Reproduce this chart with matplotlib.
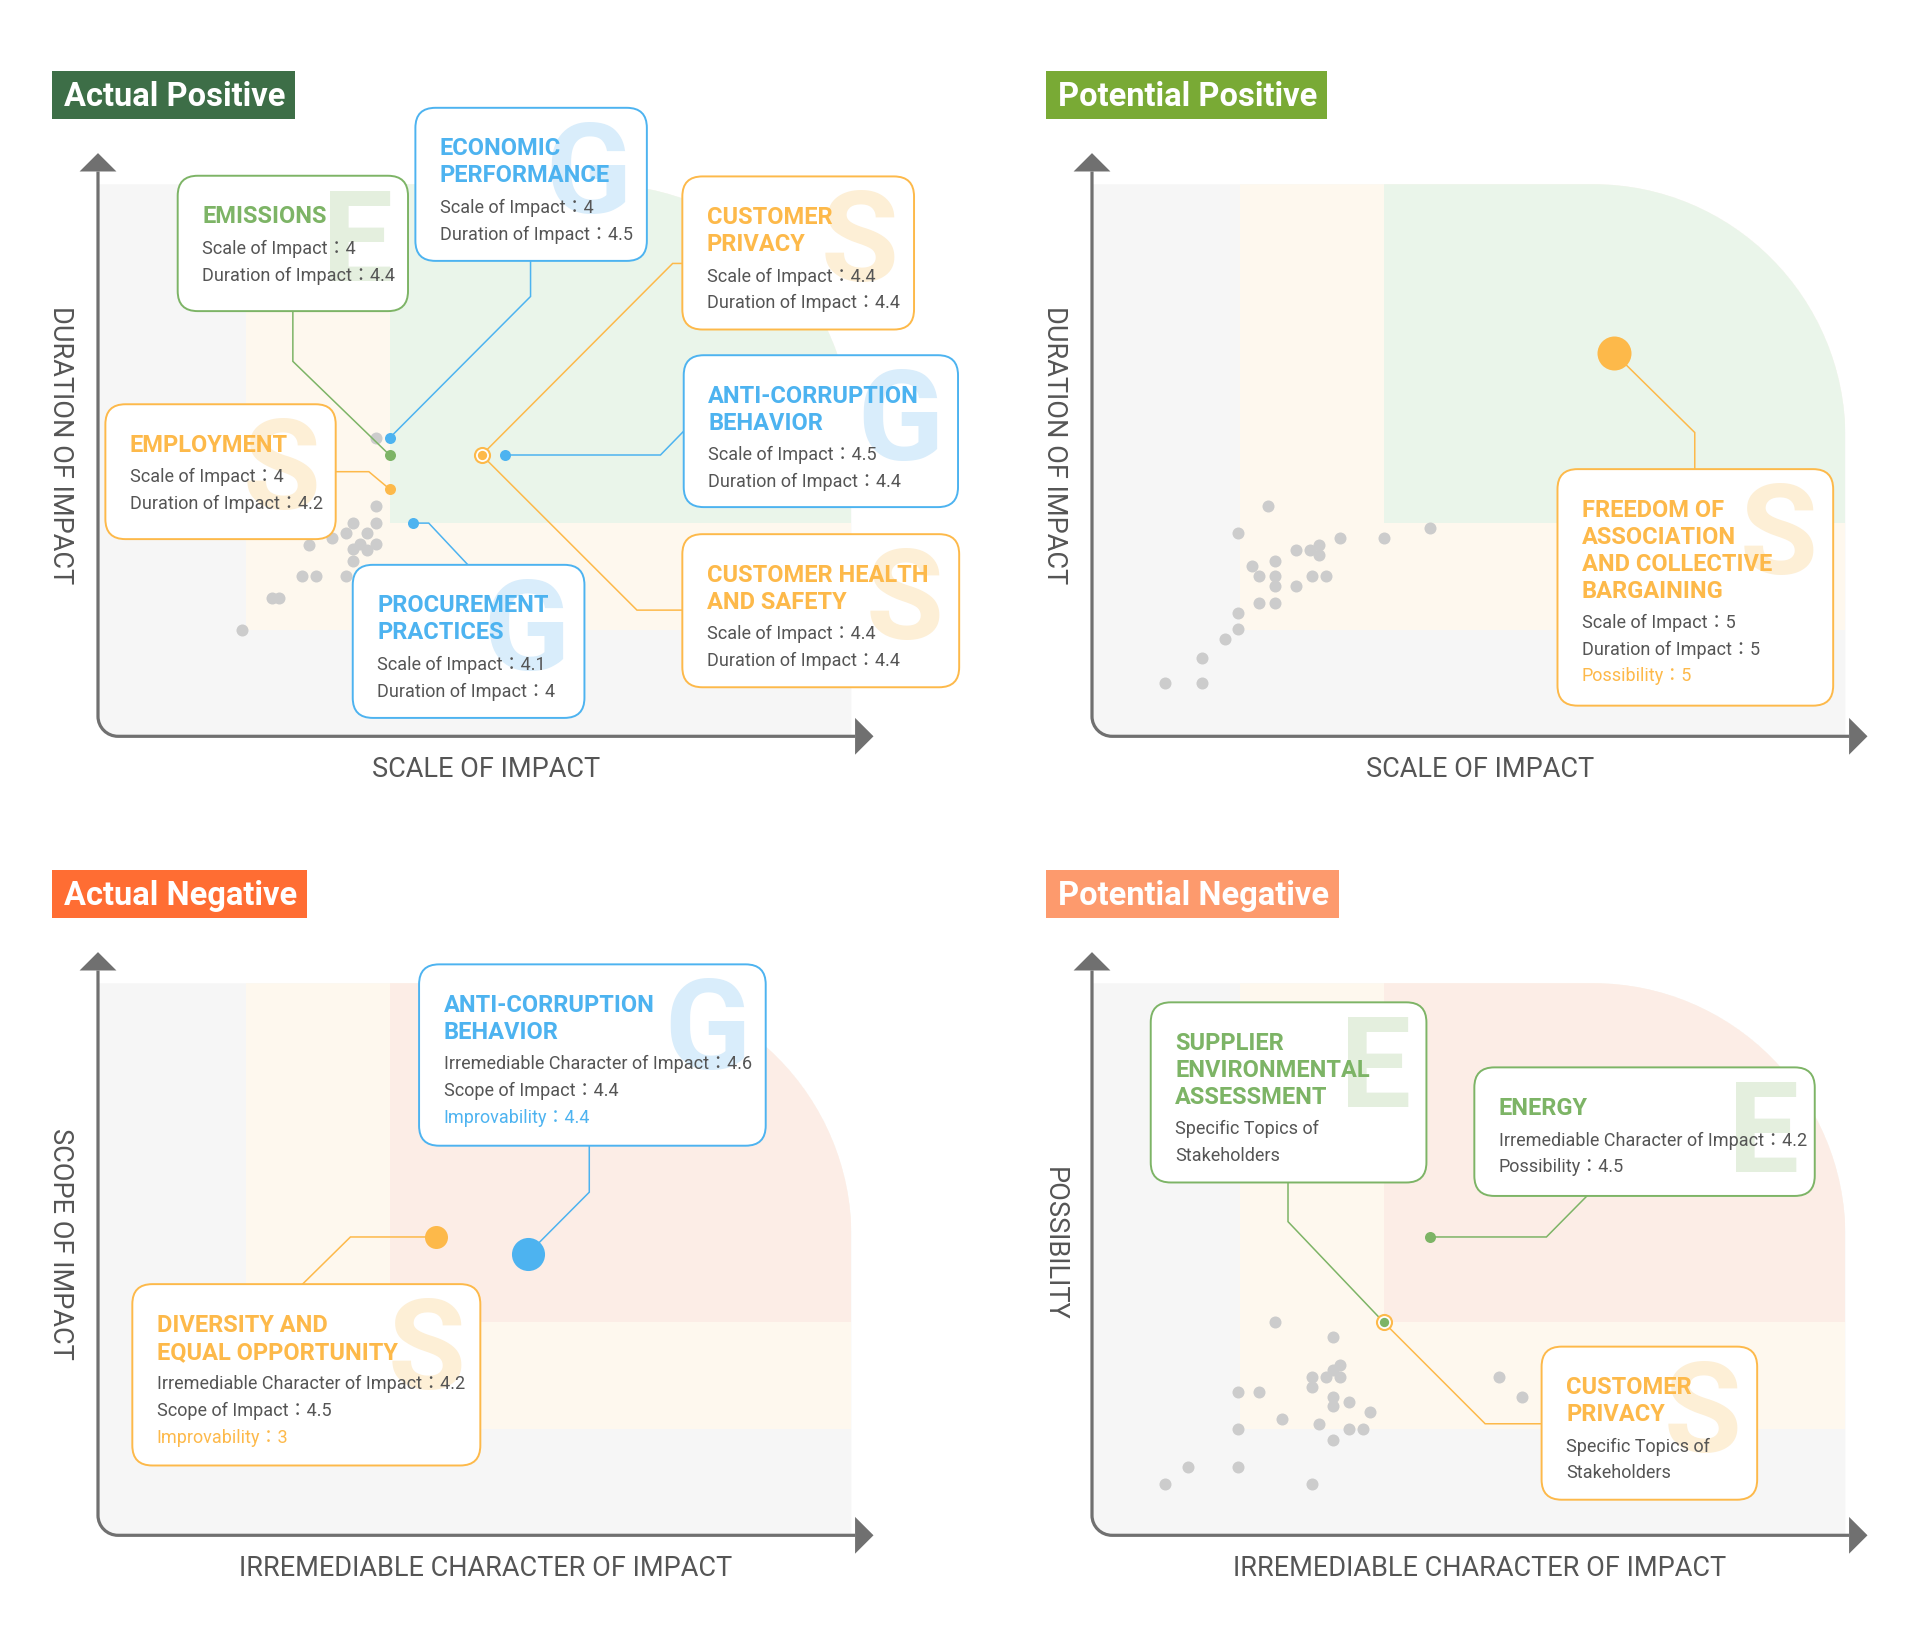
import matplotlib
matplotlib.use('Agg')
import matplotlib.pyplot as plt
from matplotlib.patches import FancyBboxPatch, PathPatch, Rectangle, Polygon
from matplotlib.path import Path

plt.rcParams['font.family'] = ['Roboto', 'Noto Sans CJK JP', 'DejaVu Sans']

GREEN = '#7db466'
BLUE = '#4db3f0'
ORANGE = '#fdb94a'
PILLAR_COLOR = {'E': GREEN, 'S': ORANGE, 'G': BLUE}
PILLAR_LIGHT = {'E': '#e4efde', 'S': '#fdefd6', 'G': '#d9edfb'}
GRAY_DOT = '#cccccc'
AXIS_GRAY = '#707070'
TEXT_GRAY = '#555555'

# ---------------- data ----------------
# Actual Positive: x = scale of impact, y = duration of impact
ap_other_x = [3.94, 3.94, 3.84, 3.94, 3.81, 3.90, 3.75, 3.65, 3.84, 3.87,
              3.90, 3.94, 3.84, 3.62, 3.68, 3.81, 3.49, 3.52, 3.36]
ap_other_y = [4.50, 4.10, 4.00, 4.00, 3.94, 3.94, 3.91, 3.87, 3.85, 3.88,
              3.84, 3.88, 3.78, 3.69, 3.69, 3.69, 3.56, 3.56, 3.37]
ap_topics = ['EMISSIONS', 'ECONOMIC\nPERFORMANCE', 'CUSTOMER\nPRIVACY',
             'ANTI-CORRUPTION\nBEHAVIOR', 'CUSTOMER HEALTH\nAND SAFETY',
             'EMPLOYMENT', 'PROCUREMENT\nPRACTICES']
ap_pillar = ['E', 'G', 'S', 'G', 'S', 'S', 'G']
ap_scale = [4, 4, 4.4, 4.5, 4.4, 4, 4.1]
ap_duration = [4.4, 4.5, 4.4, 4.4, 4.4, 4.2, 4]

# Potential Positive: x = scale of impact, y = duration of impact
pp_other_x = [3.50, 3.37, 3.81, 4.00, 4.20, 3.62, 3.68, 3.72, 3.72, 3.53,
              3.43, 3.46, 3.53, 3.69, 3.75, 3.53, 3.62, 3.46, 3.53, 3.37,
              3.37, 3.31, 3.21, 3.05, 3.21]
pp_other_y = [4.10, 3.94, 3.91, 3.91, 3.97, 3.84, 3.84, 3.87, 3.81, 3.78,
              3.75, 3.69, 3.69, 3.69, 3.69, 3.63, 3.63, 3.53, 3.53, 3.47,
              3.38, 3.32, 3.21, 3.06, 3.06]
pp_topics = ['FREEDOM OF\nASSOCIATION\nAND COLLECTIVE\nBARGAINING']
pp_pillar = ['S']
pp_scale = [5]
pp_duration = [5]
pp_possibility = [5]

# Actual Negative: x = irremediable character, y = scope of impact
an_topics = ['ANTI-CORRUPTION\nBEHAVIOR', 'DIVERSITY AND\nEQUAL OPPORTUNITY']
an_pillar = ['G', 'S']
an_irremediable = [4.6, 4.2]
an_scope = [4.4, 4.5]
an_improvability = [4.4, 3]

# Potential Negative: x = irremediable character, y = possibility
pn_other_x = [3.53, 3.78, 3.81, 3.78, 3.69, 3.75, 3.81, 3.69, 3.37, 3.46,
              3.78, 3.85, 3.78, 3.94, 3.56, 3.72, 3.37, 3.85, 3.91, 3.78,
              3.15, 3.37, 3.05, 3.69, 4.50, 4.60]
pn_other_y = [4.00, 3.91, 3.75, 3.72, 3.68, 3.68, 3.68, 3.62, 3.59, 3.59,
              3.56, 3.53, 3.51, 3.47, 3.43, 3.40, 3.37, 3.37, 3.37, 3.31,
              3.15, 3.15, 3.05, 3.05, 3.68, 3.56]
pn_topics = ['SUPPLIER\nENVIRONMENTAL\nASSESSMENT', 'ENERGY', 'CUSTOMER\nPRIVACY']
pn_pillar = ['E', 'E', 'S']
pn_irremediable = [4, 4.2, 4]
pn_possibility = [4, 4.5, 4]
pn_stakeholder_specific = [True, False, True]

# ---------------- layout ----------------
# label boxes (x0, x1, ytop, ybottom) and leader route, in data units
ap_boxes = [(3.08, 4.08, 6.04, 5.245), (4.112, 5.117, 6.439, 5.54),
            (5.271, 6.277, 6.036, 5.137), (5.277, 6.468, 4.986, 4.094),
            (5.271, 6.473, 3.935, 3.036), (2.766, 3.766, 4.698, 3.906),
            (3.84, 4.846, 3.755, 2.856)]
ap_routes = [[(3.58, 4.95), (3.58, 5.245)], [(4.612, 5.331), (4.612, 5.54)],
             [(5.229, 5.525), (5.271, 5.525)], [(5.176, 4.4), (5.277, 4.54)],
             [(5.074, 3.489), (5.271, 3.489)], [(3.91, 4.302), (3.766, 4.302)],
             [(4.17, 4.0), (4.34, 3.755)]]
pp_boxes = [(4.755, 5.952, 4.317, 2.928)]
pp_routes = [[(5.351, 4.532), (5.351, 4.317)]]
an_boxes = [(4.128, 5.633, 6.101, 5.036), (2.883, 4.394, 4.223, 3.158)]
an_routes = [[(4.867, 4.763), (4.867, 5.036)], [(3.83, 4.5), (3.622, 4.223)]]
pn_boxes = [(2.989, 4.186, 5.878, 4.82), (4.394, 5.872, 5.496, 4.741),
            (4.686, 5.622, 3.856, 2.957)]
pn_routes = [[(3.585, 4.59), (3.585, 4.82)], [(4.707, 4.5), (4.883, 4.741)],
             [(4.441, 3.403), (4.686, 3.403)]]

FIG_W, FIG_H = 1921, 1641
AX_L, AX_T, AX_W, AX_H = 98.0, 153.1, 775.5, 583.2   # pixels
DX, DY = 994.0, 799.0
XLIM = (2.734, 6.101)
YLIM = (2.748, 6.173)
X_END, Y_END = 6.005, 5.99      # edge of the shaded field
LOW, HIGH = 3.375, 4.0          # zone thresholds
ASPECT = (AX_W / (XLIM[1] - XLIM[0])) / (AX_H / (YLIM[1] - YLIM[0]))


def fmt(v):
    return f'{v:g}'


def field_path(x0, y0, x1, y1):
    k = 0.5523
    rx, ry = 1.096, 1.49      # big rounded corner, top right
    bx, by = 0.087, 0.117     # small one at the origin
    verts = [(x0, y0 + by), (x0, y1), (x1 - rx, y1),
             (x1 - rx + k * rx, y1), (x1, y1 - ry + k * ry), (x1, y1 - ry),
             (x1, y0), (x0 + bx, y0),
             (x0 + bx - k * bx, y0), (x0, y0 + by - k * by), (x0, y0 + by),
             (x0, y0 + by)]
    codes = [Path.MOVETO, Path.LINETO, Path.LINETO,
             Path.CURVE4, Path.CURVE4, Path.CURVE4,
             Path.LINETO, Path.LINETO,
             Path.CURVE4, Path.CURVE4, Path.CURVE4, Path.CLOSEPOLY]
    return Path(verts, codes)


def bubble_size(v):
    d_px = min(34.0, 23 + 7.2 * (v - 3))
    return (d_px * 0.72) ** 2


def draw_panel(fig, ox, oy, title, title_color, zone_color, xlabel, ylabel):
    ax = fig.add_axes([(AX_L + ox) / FIG_W, 1 - (AX_T + AX_H + oy) / FIG_H,
                       AX_W / FIG_W, AX_H / FIG_H])
    ax.set_xlim(*XLIM)
    ax.set_ylim(*YLIM)
    ax.axis('off')

    x0, y0 = XLIM[0], YLIM[0]
    clip = PathPatch(field_path(x0, y0, X_END, Y_END), fc='#f6f6f6', ec='none', zorder=0)
    ax.add_patch(clip)
    beige = Rectangle((LOW, LOW), X_END - LOW, Y_END - LOW, fc='#fef8ee', ec='none', zorder=0.2)
    top = Rectangle((HIGH, HIGH), X_END - HIGH, Y_END - HIGH, fc=zone_color, ec='none', zorder=0.4)
    for p in (beige, top):
        ax.add_patch(p)
        p.set_clip_path(clip)

    # axes with rounded corner and arrow heads
    k = 0.5523
    cx, cy = 0.087, 0.117
    xa, ya = 6.021, 6.065
    verts = [(x0, ya), (x0, y0 + cy), (x0, y0 + cy - k * cy),
             (x0 + cx - k * cx, y0), (x0 + cx, y0), (xa, y0)]
    codes = [Path.MOVETO, Path.LINETO, Path.CURVE4, Path.CURVE4, Path.CURVE4, Path.LINETO]
    ax.add_patch(PathPatch(Path(verts, codes), fill=False, ec=AXIS_GRAY, lw=2.3,
                           capstyle='butt', zorder=1, clip_on=False))
    ax.add_patch(Polygon([(x0 - 0.08, ya), (x0 + 0.08, ya), (x0, YLIM[1])],
                         fc=AXIS_GRAY, ec='none', clip_on=False, zorder=1))
    ax.add_patch(Polygon([(xa, y0 - 0.108), (xa, y0 + 0.108), (XLIM[1], y0)],
                         fc=AXIS_GRAY, ec='none', clip_on=False, zorder=1))

    ax.text(0.5, -0.057, xlabel, transform=ax.transAxes, ha='center', va='center',
            fontsize=19.5, color=TEXT_GRAY)
    ax.text(-0.049, 0.5, ylabel, transform=ax.transAxes, ha='center', va='center',
            rotation=-90, fontsize=19.5, color=TEXT_GRAY)

    # panel title tag
    t = fig.text((63.7 + ox) / FIG_W, 1 - (106.5 + oy) / FIG_H, title, color='white',
                 fontsize=23.5, fontweight='bold', ha='left', va='baseline', zorder=3)
    w = t.get_window_extent(fig.canvas.get_renderer()).width
    fig.patches.append(Rectangle(((51.5 + ox) / FIG_W, 1 - (118.8 + oy) / FIG_H),
                                 (w + 22) / FIG_W, 47.8 / FIG_H, fc=title_color,
                                 ec='none', transform=fig.transFigure, figure=fig, zorder=2))
    return ax


def draw_topics(ax, xs, ys, topics, pillars, bodies, body_colors, boxes, routes, sizes,
                other_x=None, other_y=None):
    if other_x:
        ax.scatter(other_x, other_y, s=75, color=GRAY_DOT, lw=0, zorder=2)

    groups = {}
    for i, (x, y) in enumerate(zip(xs, ys)):
        groups.setdefault((x, y), []).append(i)

    for i, topic in enumerate(topics):
        color = PILLAR_COLOR[pillars[i]]
        pts = [(xs[i], ys[i])] + routes[i]
        ax.plot([p[0] for p in pts], [p[1] for p in pts], color=color, lw=1.1,
                zorder=3, clip_on=False, solid_joinstyle='miter')

        bx0, bx1, byt, byb = boxes[i]
        ax.add_patch(FancyBboxPatch((bx0, byb), bx1 - bx0, byt - byb,
                                    boxstyle='round,pad=0,rounding_size=0.087',
                                    mutation_aspect=ASPECT, fc='white', ec=color,
                                    lw=1.4, zorder=5, clip_on=False))
        ax.annotate(pillars[i], (bx1, byt), xytext=(-11, -75.6), textcoords='offset points',
                    ha='right', va='baseline', fontsize=91, fontweight='bold',
                    color=PILLAR_LIGHT[pillars[i]], zorder=6, annotation_clip=False)
        yoff = -34.3
        for line in topic.split('\n'):
            ax.annotate(line, (bx0, byt), xytext=(17.6, yoff), textcoords='offset points',
                        ha='left', va='baseline', fontsize=17, fontweight='bold',
                        color=color, zorder=7, annotation_clip=False)
            yoff -= 19.4
        yoff += 19.4 - 22
        for line, lc in zip(bodies[i], body_colors[i]):
            ax.annotate(line, (bx0, byt), xytext=(17.6, yoff), textcoords='offset points',
                        ha='left', va='baseline', fontsize=13,
                        color=color if lc else TEXT_GRAY, zorder=7, annotation_clip=False)
            yoff -= 19.2

    for (x, y), idx in groups.items():
        first = PILLAR_COLOR[pillars[idx[0]]]
        if len(idx) > 1:
            ax.scatter([x], [y], s=117, facecolor='white',
                       edgecolor=PILLAR_COLOR[pillars[idx[-1]]], lw=1.5, zorder=4)
            ax.scatter([x], [y], s=45, color=first, lw=0, zorder=4.5)
        else:
            ax.scatter([x], [y], s=sizes[idx[0]], color=first, lw=0, zorder=4)


fig = plt.figure(figsize=(FIG_W / 100, FIG_H / 100), dpi=100)
fig.patch.set_facecolor('white')

SMALL = 63

# Actual Positive
ax = draw_panel(fig, 0, 0, 'Actual Positive', '#3d6e47', '#eaf5ea',
                'SCALE OF IMPACT', 'DURATION OF IMPACT')
bodies = [[f'Scale of Impact：{fmt(s)}', f'Duration of Impact：{fmt(d)}']
          for s, d in zip(ap_scale, ap_duration)]
draw_topics(ax, ap_scale, ap_duration, ap_topics, ap_pillar, bodies,
            [[False, False]] * len(ap_topics), ap_boxes, ap_routes,
            [SMALL] * len(ap_topics), ap_other_x, ap_other_y)

# Potential Positive
ax = draw_panel(fig, DX, 0, 'Potential Positive', '#79aa35', '#eaf5ea',
                'SCALE OF IMPACT', 'DURATION OF IMPACT')
bodies = [[f'Scale of Impact：{fmt(s)}', f'Duration of Impact：{fmt(d)}',
           f'Possibility：{fmt(p)}'] for s, d, p in zip(pp_scale, pp_duration, pp_possibility)]
draw_topics(ax, pp_scale, pp_duration, pp_topics, pp_pillar, bodies,
            [[False, False, True]], pp_boxes, pp_routes,
            [bubble_size(p) for p in pp_possibility], pp_other_x, pp_other_y)

# Actual Negative
ax = draw_panel(fig, 0, DY, 'Actual Negative', '#ff6d33', '#fcede6',
                'IRREMEDIABLE CHARACTER OF IMPACT', 'SCOPE OF IMPACT')
bodies = [[f'Irremediable Character of Impact：{fmt(a)}', f'Scope of Impact：{fmt(b)}',
           f'Improvability：{fmt(c)}']
          for a, b, c in zip(an_irremediable, an_scope, an_improvability)]
draw_topics(ax, an_irremediable, an_scope, an_topics, an_pillar, bodies,
            [[False, False, True]] * 2, an_boxes, an_routes,
            [bubble_size(v) for v in an_improvability])

# Potential Negative
ax = draw_panel(fig, DX, DY, 'Potential Negative', '#fd9a6d', '#fcede6',
                'IRREMEDIABLE CHARACTER OF IMPACT', 'POSSIBILITY')
bodies = []
for a, p, spec in zip(pn_irremediable, pn_possibility, pn_stakeholder_specific):
    if spec:
        bodies.append(['Specific Topics of', 'Stakeholders'])
    else:
        bodies.append([f'Irremediable Character of Impact：{fmt(a)}', f'Possibility：{fmt(p)}'])
draw_topics(ax, pn_irremediable, pn_possibility, pn_topics, pn_pillar, bodies,
            [[False, False]] * 3, pn_boxes, pn_routes,
            [SMALL] * 3, pn_other_x, pn_other_y)

fig.savefig('out.png', dpi=100, facecolor='white')
